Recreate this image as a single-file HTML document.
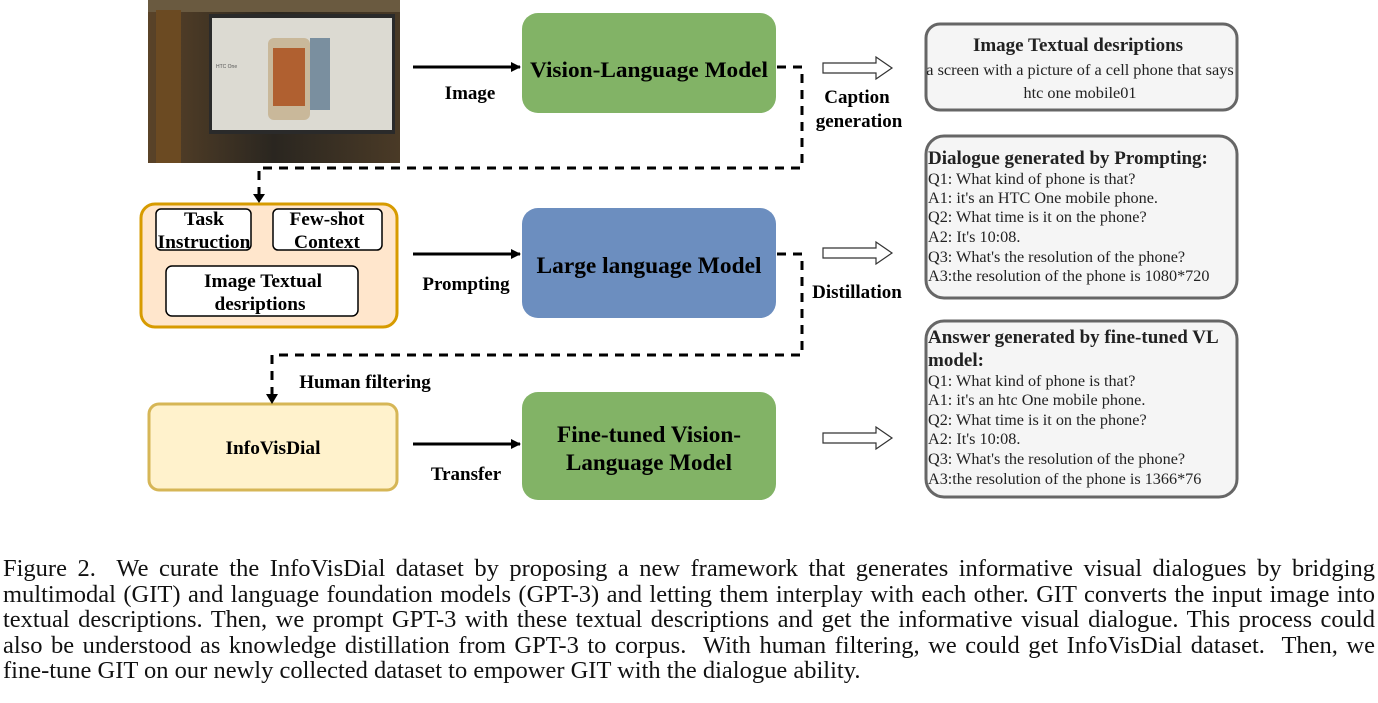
<!DOCTYPE html>
<html><head><meta charset="utf-8"><style>
body{margin:0;width:1378px;height:703px;background:#fff;overflow:hidden;position:relative;font-family:"Liberation Serif",serif}
svg{position:absolute;left:0;top:0}
.cap{position:absolute;left:3px;top:556px;width:1372px;font-size:24.5px;line-height:25.6px;text-align:justify;color:#111;font-family:"Liberation Serif",serif}
</style></head><body>
<svg width="1378" height="540" viewBox="0 0 1378 540" font-family="Liberation Serif, serif">
<defs>
<marker id="ah" markerWidth="10" markerHeight="10" refX="9" refY="5" orient="auto" markerUnits="userSpaceOnUse"><path d="M0,0 L10,5 L0,10 z" fill="#000"/></marker>
<linearGradient id="wall" x1="0" x2="1"><stop offset="0" stop-color="#5a4328"/><stop offset="0.5" stop-color="#2a2620"/><stop offset="1" stop-color="#4a3a26"/></linearGradient>
</defs>
<rect x="148" y="0" width="252" height="163" fill="url(#wall)"/>
<rect x="148" y="0" width="252" height="12" fill="#6a5a40"/>
<rect x="156" y="10" width="25" height="153" fill="#6b4a22"/>
<rect x="209" y="14" width="186" height="120" fill="#2a2a2a"/>
<rect x="212" y="18" width="180" height="112" fill="#dcdad2"/>
<rect x="268" y="38" width="42" height="82" rx="6" fill="#c9b89a"/>
<rect x="273" y="48" width="32" height="58" fill="#b06030"/>
<rect x="310" y="38" width="20" height="72" fill="#7a8f9f"/>
<text x="216" y="68" font-size="5" fill="#555" font-family="Liberation Sans">HTC One</text>
<rect x="522" y="13" width="254" height="100" rx="16" fill="#82b366"/>
<text x="649" y="77" font-size="22" font-weight="bold" text-anchor="middle" textLength="238" lengthAdjust="spacingAndGlyphs">Vision-Language Model</text>
<rect x="522" y="208" width="254" height="110" rx="16" fill="#6c8ebf"/>
<text x="649" y="273" font-size="23" font-weight="bold" text-anchor="middle" textLength="225" lengthAdjust="spacingAndGlyphs">Large language Model</text>
<rect x="522" y="392" width="254" height="108" rx="16" fill="#82b366"/>
<text x="649" y="442" font-size="23" font-weight="bold" text-anchor="middle" textLength="184" lengthAdjust="spacingAndGlyphs">Fine-tuned Vision-</text>
<text x="649" y="470" font-size="23" font-weight="bold" text-anchor="middle" textLength="166" lengthAdjust="spacingAndGlyphs">Language Model</text>
<rect x="141" y="204" width="256" height="123" rx="14" fill="#ffe6cc" stroke="#d79b00" stroke-width="3"/>
<rect x="156" y="209" width="95" height="41" rx="5" fill="#fff" stroke="#000" stroke-width="1.5"/>
<rect x="273" y="209" width="109" height="41" rx="5" fill="#fff" stroke="#000" stroke-width="1.5"/>
<rect x="166" y="266" width="192" height="50" rx="6" fill="#fff" stroke="#000" stroke-width="1.5"/>
<g font-size="19" font-weight="bold" text-anchor="middle">
<text x="204" y="225" textLength="40" lengthAdjust="spacingAndGlyphs">Task</text>
<text x="204" y="248" textLength="93" lengthAdjust="spacingAndGlyphs">Instruction</text>
<text x="327" y="225" textLength="75" lengthAdjust="spacingAndGlyphs">Few-shot</text>
<text x="327" y="248" textLength="66" lengthAdjust="spacingAndGlyphs">Context</text>
<text x="263" y="287" textLength="118" lengthAdjust="spacingAndGlyphs">Image Textual</text>
<text x="260" y="310" textLength="91" lengthAdjust="spacingAndGlyphs">desriptions</text>
</g>
<rect x="149" y="404" width="248" height="86" rx="10" fill="#fff2cc" stroke="#d6b656" stroke-width="3"/>
<text x="273" y="454" font-size="19" font-weight="bold" text-anchor="middle" textLength="95" lengthAdjust="spacingAndGlyphs">InfoVisDial</text>
<g stroke="#000" stroke-width="3" fill="none">
<line x1="413" y1="67" x2="520" y2="67" marker-end="url(#ah)"/>
<line x1="413" y1="254" x2="520" y2="254" marker-end="url(#ah)"/>
<line x1="413" y1="444" x2="520" y2="444" marker-end="url(#ah)"/>
</g>
<g font-size="19" font-weight="bold" text-anchor="middle">
<text x="470" y="99">Image</text>
<text x="466" y="290">Prompting</text>
<text x="466" y="480">Transfer</text>
<text x="365" y="388">Human filtering</text>
<text x="857" y="103">Caption</text>
<text x="859" y="127">generation</text>
<text x="857" y="298">Distillation</text>
</g>
<g stroke="#000" stroke-width="3" fill="none" stroke-dasharray="9,7">
<path d="M777,67 H802 V168 H259 V196"/>
<path d="M777,254 H802 V355 H272 V396"/>
</g>
<path d="M253,194 L259,203 L265,194 z"/>
<path d="M266,394 L272,404 L278,394 z"/>
<g fill="#fff" stroke="#333" stroke-width="1.2">
<path d="M823,63 H876 V57 L892,68 L876,79 V73 H823 z"/>
<path d="M823,248 H876 V242 L892,253 L876,264 V258 H823 z"/>
<path d="M823,433 H876 V427 L892,438 L876,449 V443 H823 z"/>
</g>
<g fill="#f5f5f5" stroke="#666" stroke-width="3">
<rect x="926" y="24" width="311" height="86" rx="14"/>
<rect x="926" y="136" width="311" height="162" rx="18"/>
<rect x="926" y="321" width="311" height="176" rx="18"/>
</g>
<g fill="#222">
<text x="1078" y="51" font-size="19" font-weight="bold" text-anchor="middle">Image Textual desriptions</text>
<text x="1080" y="75" font-size="16.3" text-anchor="middle">a screen with a picture of a cell phone that says</text>
<text x="1080" y="98" font-size="16.3" text-anchor="middle">htc one mobile01</text>
<text x="928" y="164" font-size="19" font-weight="bold">Dialogue generated by Prompting:</text>
<g font-size="16.2">
<text x="928" y="184">Q1: What kind of phone is that?</text>
<text x="928" y="203">A1: it's an HTC One mobile phone.</text>
<text x="928" y="222">Q2: What time is it on the phone?</text>
<text x="928" y="242">A2: It's 10:08.</text>
<text x="928" y="262">Q3: What's the resolution of the phone?</text>
<text x="928" y="281">A3:the resolution of the phone is 1080*720</text>
</g>
<text x="928" y="343" font-size="19" font-weight="bold">Answer  generated by fine-tuned VL</text>
<text x="928" y="366" font-size="19" font-weight="bold">model:</text>
<g font-size="16.2">
<text x="928" y="386">Q1: What kind of phone is that?</text>
<text x="928" y="405">A1: it's an htc One mobile phone.</text>
<text x="928" y="425">Q2: What time is it on the phone?</text>
<text x="928" y="444">A2: It's 10:08.</text>
<text x="928" y="464">Q3: What's the resolution of the phone?</text>
<text x="928" y="484">A3:the resolution of the phone is 1366*76</text>
</g>
</g>
</svg>
<div class="cap">Figure 2.&nbsp; We curate the InfoVisDial dataset by proposing a new framework that generates informative visual dialogues by bridging multimodal (GIT) and language foundation models (GPT-3) and letting them interplay with each other. GIT converts the input image into textual descriptions. Then, we prompt GPT-3 with these textual descriptions and get the informative visual dialogue. This process could also be understood as knowledge distillation from GPT-3 to corpus.&nbsp; With human filtering, we could get InfoVisDial dataset.&nbsp; Then, we fine-tune GIT on our newly collected dataset to empower GIT with the dialogue ability.</div>
</body></html>
